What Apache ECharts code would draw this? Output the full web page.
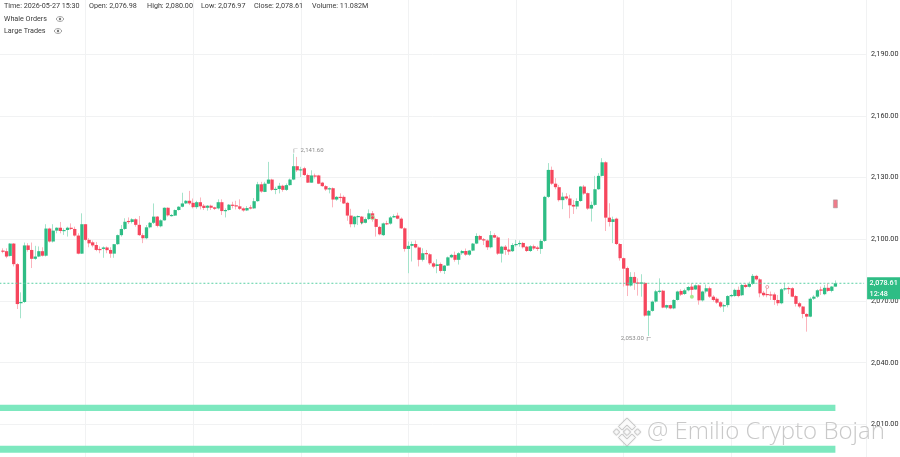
<!DOCTYPE html>
<html><head><meta charset="utf-8">
<style>html,body{margin:0;padding:0;background:#fff}#c{width:900px;height:457px}</style>
<script src="https://cdn.jsdelivr.net/npm/echarts@6/dist/echarts.min.js"></script>
</head><body><div id="c"></div>
<script>
const opens=[2094.5,2094.2,2091.9,2097.9,2087.9,2068.9,2069.5,2097,2094.8,2090.5,
2091.6,2094.2,2092,2105.2,2098.9,2104.2,2105.6,2104,2104.5,2105.6,
2105,2101.8,2093,2107.3,2099.7,2098.5,2097.2,2095.3,2095.3,2096,
2094.8,2093,2097.6,2102,2105,2108.9,2108.4,2109.7,2107,2102,
2100.5,2105.8,2108,2111,2106.3,2109.2,2115.3,2111.5,2111.5,2114.2,
2115.8,2117.4,2118.7,2117.7,2115.6,2118,2116.3,2115.3,2116.3,2115.5,
2115,2118,2113.7,2114.2,2116.8,2116.5,2116,2115,2114,2115.5,
2115,2118.5,2126.7,2123,2127,2129,2124,2124.4,2126,2124,
2126.3,2129,2135.5,2133.5,2134.5,2131.2,2127.5,2131,2131,2127.5,
2125.8,2124.2,2124.8,2119.3,2120.6,2120.6,2117.7,2111.5,2107.3,2111,
2111,2108,2109.8,2112.6,2109.8,2106,2102,2107.8,2107.6,2110.6,
2111.5,2110,2105.3,2095.3,2096.8,2097.7,2096,2090,2093.3,2092.7,
2088.3,2087,2088,2084.6,2087.2,2091.2,2092.4,2090,2093.2,2094.3,
2092.5,2094.5,2097.9,2101.6,2100,2099.4,2096.1,2102,2100.9,2093,
2096.4,2095,2094.2,2097.2,2097.7,2098.2,2096.4,2094.3,2096.6,2096,
2095.3,2099.2,2120.6,2133.7,2127,2125.3,2119,2120.8,2119.8,2116.7,
2115.9,2118.6,2125.6,2122.4,2114.9,2116.7,2124.3,2130.8,2137.4,2110.5,
2108.4,2110,2097.7,2090.8,2086,2077.5,2081.7,2079,2078.6,2078.8,
2062.9,2065.2,2069.7,2074.7,2075,2066.8,2068,2066.4,2070.5,2074.9,
2073.4,2075.2,2077,2075.6,2077.6,2070.3,2074.6,2076.2,2072.1,2071.1,
2069.4,2067.4,2068,2072.4,2072.4,2075.4,2072.8,2077.8,2076.9,2078.3,
2082.2,2080.5,2074,2073.4,2073.2,2073.2,2070.5,2068.9,2075.7,2076.3,
2076.2,2072.4,2068.9,2067.3,2063.7,2062.4,2071.1,2072.1,2075.6,2073.3,
2076.4,2074.9,2076.98];
const closes=[2093.9,2091.6,2097.9,2087.9,2068.5,2069.5,2097,2094.8,2090.5,2091.6,
2094.2,2092,2105.2,2098.9,2104.2,2105.6,2104,2104.5,2105.6,2105,
2101.8,2093,2107.3,2099.7,2098,2097,2094.8,2094.7,2096,2094.7,
2093,2097.6,2102,2105,2108.5,2108.4,2109.7,2107,2102,2100.5,
2105.8,2108,2111,2106.5,2109.2,2115.3,2111.6,2111.8,2114.2,2115.8,
2117.4,2118.7,2117.4,2115.6,2118,2116,2115.2,2116.3,2115.3,2114.8,
2118,2113.7,2114.2,2116.8,2116.3,2116,2114.8,2114,2115.2,2115,
2118.5,2126.7,2123.2,2127,2129,2124,2124.5,2126,2124,2126.3,
2129,2135.5,2133.5,2134,2131.2,2127.5,2131,2130.7,2127,2125.8,
2124.2,2124.8,2119.3,2120.6,2120.2,2117.4,2111.5,2107.3,2111,2111.3,
2108,2109.8,2112.6,2109.8,2106,2102.4,2107.7,2107.6,2110.6,2111.3,
2110,2105.3,2095.3,2096.8,2097.7,2096,2090,2093.2,2092.7,2088.3,
2086.7,2087.8,2084.6,2087.2,2091.2,2092.4,2090,2093.2,2094.3,2092.5,
2094.5,2097.9,2101.6,2099.8,2099.4,2096.1,2102,2100.8,2093,2096.4,
2094.8,2094,2097.2,2097.7,2098.2,2096.1,2094.3,2096.6,2095.5,2095.3,
2099.2,2120.6,2133.7,2127,2125.3,2119,2120.7,2119.8,2116.5,2115.9,
2118.6,2125.6,2122.2,2114.9,2116.7,2124.3,2130.8,2137.4,2110.5,2108.4,
2109.7,2097.7,2090.8,2085.7,2077.5,2081.7,2078.8,2078.4,2079,2062.9,
2065.2,2069.7,2074.7,2075,2066.8,2068,2066.4,2070.5,2074.6,2073.1,
2075.2,2076.8,2075.4,2077.6,2070.3,2074.6,2076.2,2072.1,2070.5,2069.2,
2067.3,2068,2072.4,2072.9,2075.4,2072.4,2077.8,2076.8,2078.3,2082.2,
2080.5,2073.7,2072.8,2072.9,2072.8,2070.5,2068.9,2075.7,2076.2,2075.7,
2072.1,2068.6,2067.3,2063.7,2062.4,2071.1,2072.1,2075.2,2075,2076.4,
2074.9,2077,2078.61];
const lows=[2093.2,2090.8,2091.6,2086.8,2066.1,2061.6,2069,2094,2086,2090,
2091.3,2091.6,2091.6,2098.4,2098.4,2102.9,2102.9,2102.1,2101.3,2104.5,
2101.3,2092.7,2092.9,2099.2,2096.1,2096.1,2094.2,2093.2,2091,2093.2,
2091,2091,2097.3,2101.3,2104.5,2107.4,2107.7,2106.1,2101.6,2098.1,
2100,2105.3,2107.4,2105.8,2105.8,2109,2111,2111,2111.3,2113.9,
2115.5,2117.1,2116.6,2115,2114.8,2114.5,2114.2,2113.9,2114.2,2114.2,
2114.5,2111.8,2110.6,2113.9,2115,2114.5,2114.2,2113.4,2113.7,2114.5,
2114.8,2118.2,2122.6,2122.9,2126.8,2123.5,2121.9,2122.3,2123.1,2123.5,
2126,2128.7,2132.7,2130.3,2130.8,2127.4,2127.4,2129.5,2126.8,2125.5,
2123.5,2122.3,2115.5,2118.7,2118.2,2117.1,2109,2105.8,2105.8,2106.9,
2107.1,2107.7,2109.4,2108.5,2101.3,2101.9,2101.6,2106.9,2107.1,2110.5,
2109.7,2105,2094,2083.5,2089.2,2095.6,2086.8,2089.2,2090,2087.5,
2085.9,2083.5,2083.8,2083.1,2087,2090.8,2089.1,2087.7,2092.4,2091.9,
2091.9,2094.2,2097.6,2099.4,2097.2,2094.8,2095.6,2100.5,2092.4,2088.7,
2092.4,2092.4,2093.8,2096.4,2096.4,2095.5,2093.8,2093.8,2094.8,2094.3,
2092.9,2098.7,2120.1,2126.4,2124.3,2118.3,2114.6,2119.1,2110.2,2112.3,
2114.6,2118.2,2121.6,2114.3,2108.6,2116.2,2124,2130.5,2104,2106.2,
2098.1,2097.2,2089.6,2077,2072.4,2077,2075.4,2072.6,2072.1,2062.4,
2053,2064.8,2069.2,2073.7,2066.5,2066,2066,2066,2070.2,2072.4,
2072.9,2074.7,2072.4,2075.4,2068.2,2069.7,2073.7,2071.5,2069.7,2068.6,
2066.6,2064.7,2066.9,2071.8,2072.1,2071.8,2072.4,2076.2,2076.5,2077.8,
2079.9,2071.8,2072.1,2071.8,2070.5,2068.1,2067.7,2068.4,2075,2073.4,
2071.8,2067.3,2066.5,2061.6,2055.1,2062.1,2070.5,2071.5,2072.9,2072.8,
2074.4,2074.2,2076.97];
const highs=[2095.6,2095.6,2098.1,2098.1,2088.4,2074.2,2098.4,2098.1,2098.4,2096.8,
2096.5,2096.1,2107.3,2105.6,2107.3,2105.8,2108.4,2105.3,2106.1,2107.7,
2106.1,2102.9,2112.6,2107.4,2100.5,2099.4,2098.7,2096.5,2096.5,2096.5,
2096.1,2097.7,2102.3,2106.9,2110.2,2110.6,2110.2,2110.2,2111.3,2102.9,
2106.9,2108.4,2117.4,2111.3,2109.7,2115.5,2115.5,2112.3,2114.5,2116.1,
2122.6,2119,2123.5,2119.8,2118.7,2120.3,2117.1,2116.6,2116.8,2115.8,
2119.4,2119.4,2115,2117.1,2118.2,2118.7,2119.4,2115.5,2116.1,2116.6,
2120,2127.9,2127.9,2127.9,2137.6,2129.4,2125.5,2127.4,2126.5,2127.1,
2129.5,2141.6,2140,2135.2,2135.2,2131.9,2133.5,2131.9,2131.3,2127.9,
2126.3,2125.2,2125.2,2121,2122.3,2121.3,2118.2,2114.8,2111.3,2111.6,
2111.3,2110.6,2114.5,2113.7,2110.2,2106.5,2108.1,2109,2111.3,2112.1,
2112.9,2110.6,2105.8,2098.9,2098.9,2099.4,2096.5,2095.6,2094.8,2093.2,
2089.1,2090.3,2088.7,2087.5,2091.6,2092.9,2094,2093.7,2094.8,2095.5,
2094.8,2098.2,2102.9,2102.1,2100.6,2100,2104,2102.9,2101.6,2096.8,
2097.2,2100.5,2098.1,2099.7,2099.4,2098.7,2096.8,2097.1,2097.4,2096.8,
2100,2121.1,2137,2135.3,2129.7,2126.4,2122.7,2122.4,2121.6,2119.1,
2119.9,2125.9,2126.4,2122.7,2118.3,2130.8,2132.1,2139.4,2137.9,2117.5,
2111,2110.5,2098.1,2091.1,2086.7,2084,2084,2081,2083,2079.1,
2065.6,2070.2,2075.4,2081,2075.4,2068.2,2068.2,2070.8,2075,2075.7,
2076,2077.3,2078.6,2078,2078,2075,2078,2077,2072.8,2071.8,
2070,2068.6,2072.8,2073.4,2076,2077,2078.3,2078.6,2079.4,2083.1,
2082.7,2081,2074.9,2076.2,2074.6,2074.1,2072.9,2076.2,2078.9,2077,
2076.7,2072.9,2069.5,2067.6,2064,2071.8,2072.8,2075.7,2077,2077.8,
2078.6,2077.3,2080];
const priceTicks=[2010,2040,2070,2100,2130,2160,2190];
const lastPrice=2078.61, countdown='12:48';
const supportBands=[[2016.6,2019.6],[1996.3,1999.7]];
const peakIndex=81, peakPrice=2141.6, troughIndex=180, troughPrice=2053;
const headerTexts=['Time: 2026-05-27 15:30','Open: 2,076.98','High: 2,080.00','Low: 2,076.97','Close: 2,078.61','Volume: 11.082M'];
const indicatorNames=['Whale Orders','Large Trades'];

const UP='#2ebd85',DOWN='#f6465d',WUP='#a5e3cb',WDOWN='#fbb4bd',GRID='#f1f2f3';
const FONT='Roboto,"Noto Sans",sans-serif';
const fmt=v=>v.toLocaleString('en-US',{minimumFractionDigits:2,maximumFractionDigits:2});
const categories=[''].concat(opens.map((_,i)=>'c'+i));
for(let i=0;i<8;i++)categories.push('f'+i);
const lastIdx=opens.length;
const ohlc=[['-','-','-','-']].concat(opens.map((o,i)=>[o,closes[i],lows[i],highs[i]]));
const bodies=opens.map((o,i)=>[i+1,o,closes[i]]);
const noteLabel={show:true,color:'#8a8a8a',fontSize:6,fontFamily:FONT};
const corner='path://M0 10h1.2V1.2h7.6V0H0z';
const eye=(x,y)=>[
 {type:'ellipse',shape:{cx:x,cy:y,rx:3.6,ry:2.4},style:{fill:'none',stroke:'#777',lineWidth:0.7},z:50},
 {type:'circle',shape:{cx:x,cy:y,r:1.2},style:{fill:'#777'},z:50}];
const logoStyle={fill:'#fbfbfb',stroke:'#c8c8c8',lineWidth:0.9,shadowBlur:1.5,shadowColor:'rgba(0,0,0,.2)'};
const poly=(pts)=>({type:'polygon',x:627,y:432,z:60,shape:{points:pts},style:logoStyle});
const logo=[
 poly([[0,-14],[8.5,-5.5],[5,-2],[0,-7],[-5,-2],[-8.5,-5.5]]),
 poly([[0,14],[8.5,5.5],[5,2],[0,7],[-5,2],[-8.5,5.5]]),
 poly([[-10.5,-3.2],[-7.3,0],[-10.5,3.2],[-13.7,0]]),
 poly([[10.5,-3.2],[13.7,0],[10.5,3.2],[7.3,0]]),
 poly([[0,-3.6],[3.6,0],[0,3.6],[-3.6,0]])];
const headerX=[4,89,147,201,254,312];
const txt=(t,x,y)=>({type:'text',x:x,y:y,z:50,style:{text:t,fill:'#3a3a3a',font:'7.2px '+FONT,textVerticalAlign:'middle'}});

const chart=echarts.init(document.getElementById('c'),null,{renderer:'canvas'});
chart.setOption({
 animation:false,
 backgroundColor:'#fff',
 grid:{left:-2.4,width:868.3,top:-7.7,height:493.9,outerBoundsMode:'none',containLabel:false},
 xAxis:{type:'category',data:categories,boundaryGap:true,
  axisLine:{show:false},axisTick:{show:false},axisLabel:{show:false},
  splitLine:{show:true,alignWithLabel:true,interval:(i)=>i<=lastIdx&&(i-24)%30===0,lineStyle:{color:GRID,width:1}}},
 yAxis:{type:'value',position:'right',min:1980,max:2220,interval:30,scale:false,
  axisLine:{show:true,lineStyle:{color:GRID}},axisTick:{show:false},
  splitLine:{lineStyle:{color:GRID,width:1}},
  axisLabel:{margin:5,color:'#2b2b2b',fontSize:7.2,fontFamily:FONT,
   formatter:v=>priceTicks.includes(v)?fmt(v):''}},
 series:[
  {name:'wicks',type:'candlestick',data:ohlc,barWidth:1,z:3,silent:true,
   itemStyle:{color:WUP,color0:WDOWN,borderColor:WUP,borderColor0:WDOWN,borderWidth:1},
   markArea:{silent:true,itemStyle:{color:'#7de8bf',opacity:1},
    data:supportBands.map(b=>[{xAxis:0,yAxis:b[1]},{xAxis:lastIdx,yAxis:b[0]}])}},
  {name:'bodies',type:'custom',data:bodies,z:4,silent:true,encode:{x:0,y:[1,2]},
   renderItem:(p,api)=>{
     const a=api.coord([api.value(0),api.value(1)]),b=api.coord([api.value(0),api.value(2)]);
     const top=Math.min(a[1],b[1]),h=Math.max(Math.abs(a[1]-b[1]),1.2);
     return {type:'rect',shape:{x:a[0]-1.65,y:top,width:3.3,height:h},
      style:{fill:api.value(2)>=api.value(1)?UP:DOWN}};
   }},
  {name:'last price',type:'line',data:categories.map(()=>lastPrice),symbol:'none',z:5,silent:true,
   lineStyle:{color:'#58cfa3',type:[2,2],width:1},
   endLabel:{show:true,distance:3,offset:[0,5],backgroundColor:UP,color:'#fff',
     fontSize:7.2,fontFamily:FONT,fontWeight:500,lineHeight:11,padding:[0,2.5,0,2.5],
     formatter:()=>fmt(lastPrice)+'\n'+countdown,align:'left'},
   markPoint:{silent:true,z:21,
    data:[
     {coord:[peakIndex+1,peakPrice],symbol:corner,symbolSize:4,symbolOffset:[2,-3],itemStyle:{color:'#888'},
      label:Object.assign({},noteLabel,{position:'right',distance:3,formatter:()=>fmt(peakPrice)})},
     {coord:[troughIndex+1,troughPrice],symbol:corner,symbolSize:4,symbolOffset:[0,3],itemStyle:{color:'#888'},
      label:Object.assign({},noteLabel,{position:'left',distance:3,formatter:()=>fmt(troughPrice)})},
     {coord:[lastIdx,2117.2],symbol:'rect',symbolSize:[4,8],itemStyle:{color:'#ef7b8a',borderColor:'#9a9a9a',borderWidth:0.5},label:{show:false}},
     {coord:[101,2108],symbol:'circle',symbolSize:2,itemStyle:{color:'#1fae6a'},label:{show:false}},
     {coord:[104,2110.5],symbol:'circle',symbolSize:4,itemStyle:{color:'rgba(0,0,0,0)',borderColor:'#a6e8a0',borderWidth:1},label:{show:false}},
     {coord:[193,2072],symbol:'circle',symbolSize:4,itemStyle:{color:'#a6ea8e'},label:{show:false}},
     {coord:[214,2076.8],symbol:'circle',symbolSize:3,itemStyle:{color:'#fff',borderColor:'#e58b97',borderWidth:0.8},label:{show:false}}
    ]}}
 ],
 graphic:[
  ...headerTexts.map((t,i)=>txt(t,headerX[i],6.5)),
  txt(indicatorNames[0],4,19),txt(indicatorNames[1],4,31),
  ...eye(60,19),...eye(58,31),
  {type:'text',x:647,y:432,z:60,style:{text:'@ Emilio Crypto Bojan',fill:'#c9c9c9',font:'300 24px "Open Sans",sans-serif',
   textVerticalAlign:'middle',shadowBlur:1.5,shadowColor:'rgba(0,0,0,.25)'}},
  ...logo
 ]
});
</script></body></html>
